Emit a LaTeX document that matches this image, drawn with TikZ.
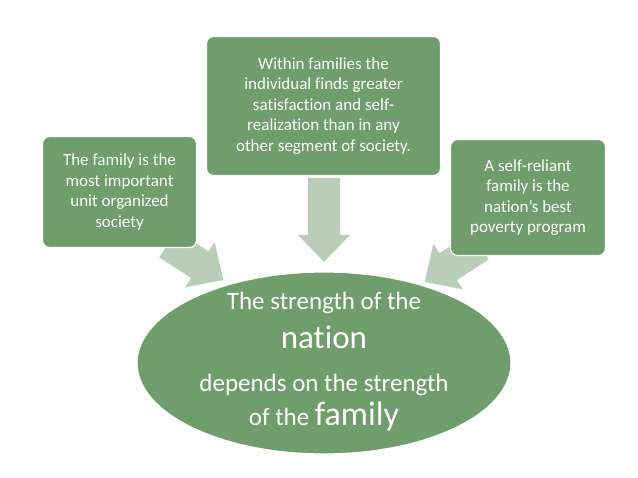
\documentclass[tikz,border=0pt]{standalone}
\usepackage{fontspec}
\setmainfont[Ligatures=NoCommon]{Carlito}
\usetikzlibrary{shapes.geometric}
\definecolor{gbox}{HTML}{6F9E6C}
\definecolor{garr}{HTML}{B9CDB8}
\begin{document}
\begin{tikzpicture}[x=1pt,y=-1pt,
  boxst/.style={fill=gbox,draw=white,line width=1.2pt,rounded corners=7pt,text=white,align=center,font=\fontsize{17}{20.5}\selectfont,inner sep=4pt},
  arrst/.style={fill=garr,draw=none}]
\useasboundingbox (0,0) rectangle (638,478);
\fill[white] (0,0) rectangle (638,478);
\fill[arrst] (308,178) -- (340,178) -- (340,235) -- (350,235) -- (324,262) -- (298,235) -- (308,235) -- cycle;
\begin{scope}[shift={(168,244)},rotate=-33]
\fill[arrst] (0,-16) -- (38,-16) -- (38,-27) -- (66,0) -- (38,27) -- (38,16) -- (0,16) -- cycle;
\end{scope}
\begin{scope}[shift={(480,246)},rotate=-147]
\fill[arrst] (0,-16) -- (38,-16) -- (38,-27) -- (66,0) -- (38,27) -- (38,16) -- (0,16) -- cycle;
\end{scope}
\node[boxst,minimum width=154pt,minimum height=111pt] (bl) at (119.5,192) {The family is the\\most important\\unit organized\\society};
\node[boxst,minimum width=234pt,minimum height=139pt] (bm) at (323.5,106) {Within families the\\individual finds greater\\satisfaction and self-\\realization than in any\\other segment of society.};
\node[boxst,minimum width=155pt,minimum height=116pt] (br) at (528,197.5) {A self-reliant\\family is the\\nation’s best\\poverty program};
\node[ellipse,fill=gbox,draw=white,line width=1.2pt,minimum width=374pt,minimum height=182pt,inner sep=0pt] (el) at (324,363) {};
\node[text=white,align=center,font=\fontsize{25}{30}\selectfont] (t1) at (324,303) {The strength of the};
\node[text=white,align=center,font=\fontsize{33}{36}\selectfont] (t2) at (324,337) {nation};
\node[text=white,align=center,font=\fontsize{25}{30}\selectfont] (t3) at (324,385) {depends on the strength};
\node[text=white,align=center,anchor=base] (t4) at (324,426) {{\fontsize{25}{30}\selectfont of the }{\fontsize{34}{36}\selectfont family}};
\end{tikzpicture}
\end{document}
